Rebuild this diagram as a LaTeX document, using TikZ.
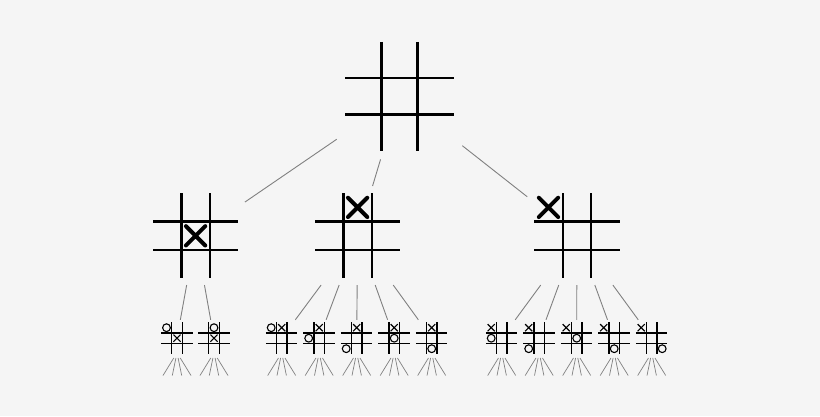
\documentclass[tikz,border=0pt]{standalone}
\usetikzlibrary{calc}
\definecolor{hgrund}{HTML}{F5F5F5}
\definecolor{kantenfarbe}{HTML}{808080}
\tikzset{
  brett/.pic={
    \draw[pic actions] (-1.5,-0.5) -- (1.5,-0.5) (-1.5,0.5) -- (1.5,0.5)
      (-0.5,-1.5) -- (-0.5,1.5) (0.5,-1.5) -- (0.5,1.5);
  },
  kreuz/.pic={
    \draw[pic actions] (-0.34,-0.34) -- (0.34,0.34) (-0.34,0.34) -- (0.34,-0.34);
  },
  kreis/.pic={
    \draw[pic actions] (0,0) circle (0.37);
  },
  kante/.style={draw=kantenfarbe,line width=0.9pt},
  grossbrett/.style={scale=36.3,line width=2.6pt,line cap=butt},
  mittelbrett/.style={scale=28.4,line width=2.3pt,line cap=butt},
  kleinbrett/.style={scale=10.5,line width=1.3pt,line cap=butt},
  grossstein/.style={scale=28.4,line width=4pt,line cap=round},
  kleinstein/.style={scale=10.5,line width=1.1pt},
}
\begin{document}
\begin{tikzpicture}[x=1pt,y=-1pt]
  % Hintergrund
  \fill[hgrund] (0,0) rectangle (820,416);
  \useasboundingbox (0,0) rectangle (820,416);
  % Mittelpunkte der Bretter
  \coordinate (W) at (399.5,96.3);
  \coordinate (A) at (195.6,235.8);
  \coordinate (B) at (357.6,235.8);
  \coordinate (C) at (576.9,235.8);
  \foreach \i/\x in {1/177,2/214}
    \coordinate (A\i) at (\x,338.2);
  \foreach \i/\x in {1/281.7,2/319.2,3/356.7,4/394.2,5/431.7}
    \coordinate (B\i) at (\x,338.2);
  \foreach \i/\x in {1/501.7,2/539.2,3/576.7,4/614.2,5/651.7}
    \coordinate (C\i) at (\x,338.2);
  % Wurzel
  \pic[grossbrett] at (W) {brett};
  % erster Zug
  \pic[mittelbrett] at (A) {brett};
  \pic[mittelbrett] at (B) {brett};
  \pic[mittelbrett] at (C) {brett};
  \pic[grossstein] at (A) {kreuz};
  \pic[grossstein] at ($(B)+(0,-28.4)$) {kreuz};
  \pic[grossstein] at ($(C)+(-28.4,-28.4)$) {kreuz};
  % zweiter Zug
  \foreach \i/\ox/\oy in {1/-1/-1,2/0/-1} {
    \pic[kleinbrett] at (A\i) {brett};
    \pic[kleinstein] at (A\i) {kreuz};
    \pic[kleinstein] at ($(A\i)+(10.5*\ox,10.5*\oy)$) {kreis};
  }
  \foreach \i/\ox/\oy in {1/-1/-1,2/-1/0,3/-1/1,4/0/0,5/0/1} {
    \pic[kleinbrett] at (B\i) {brett};
    \pic[kleinstein] at ($(B\i)+(0,-10.5)$) {kreuz};
    \pic[kleinstein] at ($(B\i)+(10.5*\ox,10.5*\oy)$) {kreis};
  }
  \foreach \i/\ox/\oy in {1/-1/0,2/-1/1,3/0/0,4/0/1,5/1/1} {
    \pic[kleinbrett] at (C\i) {brett};
    \pic[kleinstein] at ($(C\i)+(-10.5,-10.5)$) {kreuz};
    \pic[kleinstein] at ($(C\i)+(10.5*\ox,10.5*\oy)$) {kreis};
  }
  % Kanten
  \draw[kante] ($(W)!0.308!(A)$) -- ($(W)!0.758!(A)$);
  \draw[kante] ($(W)!0.452!(B)$) -- ($(W)!0.643!(B)$);
  \draw[kante] ($(W)!0.354!(C)$) -- ($(W)!0.720!(C)$);
  \foreach \k in {A1,A2}
    \draw[kante] ($(A)!0.481!(\k)$) -- ($(A)!0.82!(\k)$);
  \foreach \k in {B1,B2,B3,B4,B5}
    \draw[kante] ($(B)!0.481!(\k)$) -- ($(B)!0.82!(\k)$);
  \foreach \k in {C1,C2,C3,C4,C5}
    \draw[kante] ($(C)!0.481!(\k)$) -- ($(C)!0.82!(\k)$);
  % Faecher
  \foreach \s in {A1,A2,B1,B2,B3,B4,B5,C1,C2,C3,C4,C5} {
    \coordinate (\s o) at ($(\s)+(0,14.5)$);
    \foreach \n/\d in {1/-14,2/-4.7,3/4.7,4/14} {
      \coordinate (\s f\n) at ($(\s)+(\d,37.3)$);
      \draw[kante,line width=0.7pt] ($(\s o)!0.23!(\s f\n)$) -- (\s f\n);
    }
  }
\end{tikzpicture}
\end{document}
